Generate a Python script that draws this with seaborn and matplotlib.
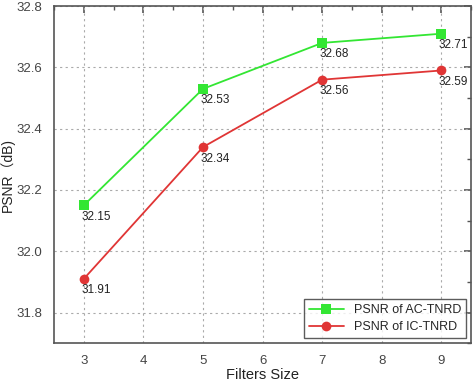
import numpy as np
import pandas as pd
import seaborn as sns
import matplotlib.pyplot as plt
from matplotlib.ticker import MultipleLocator

# data
filters = [3, 5, 7, 9]
psnr_ac = [32.15, 32.53, 32.68, 32.71]
psnr_ic = [31.91, 32.34, 32.56, 32.59]

df = pd.DataFrame({
    "Filters Size": filters * 2,
    "PSNR": psnr_ac + psnr_ic,
    "series": ["PSNR of AC-TNRD"] * 4 + ["PSNR of IC-TNRD"] * 4,
})

sns.set_style("white")
plt.rcParams['font.family'] = ['Liberation Sans', 'Noto Sans CJK SC', 'DejaVu Sans']

fig = plt.figure(figsize=(4.74, 3.83), dpi=100)
ax = fig.add_axes([0.114, 0.104, 0.88, 0.88])

palette = {"PSNR of AC-TNRD": "#33e633", "PSNR of IC-TNRD": "#e03535"}
markers = {"PSNR of AC-TNRD": "s", "PSNR of IC-TNRD": "o"}
sns.lineplot(data=df, x="Filters Size", y="PSNR", hue="series", style="series",
             palette=palette, markers=markers, dashes=False, markersize=7,
             markeredgewidth=0, linewidth=1.3, ax=ax)

# value labels just below-right of each point
for x, y in zip(filters + filters, psnr_ac + psnr_ic):
    ax.annotate(f"{y:.2f}", (x, y), xytext=(-2, -4), textcoords="offset points",
                ha="left", va="top", fontsize=8.5, color="#222222")

ax.set_xlim(2.5, 9.5)
ax.set_ylim(31.7, 32.8)
ax.xaxis.set_major_locator(MultipleLocator(1))
ax.xaxis.set_minor_locator(MultipleLocator(0.5))
ax.yaxis.set_minor_locator(MultipleLocator(0.1))
yt = np.arange(31.8, 32.81, 0.2)
ax.set_yticks(yt)
ax.set_yticklabels([f"{v:.1f}" for v in yt])

ax.grid(True, which="major", linestyle=(0, (2, 3)), color="#aaaaaa", linewidth=0.8)
for s in ax.spines.values():
    s.set_color("#555555")
    s.set_linewidth(1.2)

ax.tick_params(axis="both", which="both", direction="out", colors="#555555",
               labelcolor="#444444", labelsize=9.5)
ax.tick_params(which="major", length=5, width=1.2)
ax.tick_params(which="minor", length=3, width=1)

# inward ticks on top and right
sec_x = ax.secondary_xaxis("top")
sec_x.xaxis.set_major_locator(MultipleLocator(1))
sec_x.xaxis.set_minor_locator(MultipleLocator(0.5))
sec_x.tick_params(which="both", direction="in", labeltop=False, colors="#555555")
sec_x.tick_params(which="major", length=5, width=1.2)
sec_x.tick_params(which="minor", length=3, width=1)
sec_y = ax.secondary_yaxis("right")
sec_y.yaxis.set_major_locator(MultipleLocator(0.2))
sec_y.yaxis.set_minor_locator(MultipleLocator(0.1))
sec_y.tick_params(which="both", direction="in", labelright=False, colors="#555555")
sec_y.tick_params(which="major", length=5, width=1.2)
sec_y.tick_params(which="minor", length=3, width=1)
sec_x.spines["top"].set_visible(False)
sec_y.spines["right"].set_visible(False)

ax.set_xlabel("Filters Size", fontsize=10.5, color="#222222")
ax.set_ylabel("PSNR（dB)", fontsize=10, color="#222222")
ax.xaxis.set_label_coords(0.5, -0.075)
ax.yaxis.set_label_coords(-0.093, 0.5)

leg = ax.legend(loc="lower right", fontsize=9, frameon=True, fancybox=False,
                edgecolor="#333333", borderpad=0.4, handlelength=2.8,
                borderaxespad=0.4, labelspacing=0.4)
leg.get_frame().set_linewidth(1.0)

fig.savefig("out.png", dpi=100)
